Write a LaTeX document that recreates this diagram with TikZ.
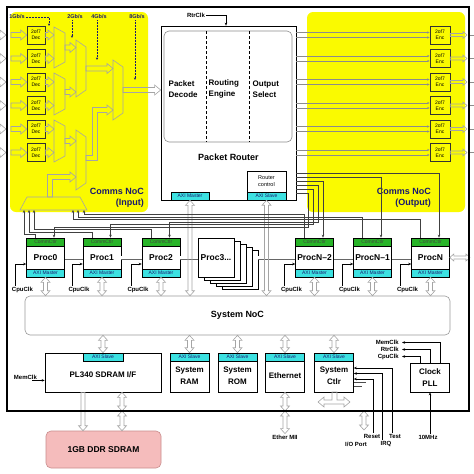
\documentclass[tikz,border=0pt]{standalone}
\usepackage{fontspec}
\setmainfont{Liberation Sans}
\usetikzlibrary{arrows.meta,calc}
\definecolor{nocyellow}{RGB}{250,250,0}
\definecolor{ccgreen}{RGB}{40,180,40}
\definecolor{axicyan}{RGB}{60,225,225}
\definecolor{ddrpink}{RGB}{245,188,188}
\definecolor{ddredge}{RGB}{200,140,140}
\definecolor{nocnavy}{RGB}{25,25,110}
\definecolor{hollowgray}{RGB}{165,165,165}
%размеры полых стрелок
\def\arrw{2pt}\def\arrh{4.5pt}\def\arrl{5pt}
%полая стрелка вправо
\newcommand{\hollowr}[2]{\draw[hollow] let \p1=#1, \p2=#2 in
  (\x1,\y1+\arrw) -- (\x2-\arrl,\y1+\arrw) -- (\x2-\arrl,\y1+\arrh) -- (\x2,\y1)
  -- (\x2-\arrl,\y1-\arrh) -- (\x2-\arrl,\y1-\arrw) -- (\x1,\y1-\arrw) -- cycle;}
%полая стрелка вниз
\newcommand{\hollowd}[2]{\draw[hollow] let \p1=#1, \p2=#2 in
  (\x1-\arrw,\y1) -- (\x1-\arrw,\y2+\arrl) -- (\x1-\arrh,\y2+\arrl) -- (\x1,\y2)
  -- (\x1+\arrh,\y2+\arrl) -- (\x1+\arrw,\y2+\arrl) -- (\x1+\arrw,\y1) -- cycle;}
%полая двойная вертикальная
\newcommand{\hollowud}[2]{\draw[hollow] let \p1=#1, \p2=#2 in
  (\x1,\y1) -- (\x1+\arrh,\y1-\arrl) -- (\x1+\arrw,\y1-\arrl) -- (\x1+\arrw,\y2+\arrl)
  -- (\x1+\arrh,\y2+\arrl) -- (\x1,\y2) -- (\x1-\arrh,\y2+\arrl) -- (\x1-\arrw,\y2+\arrl)
  -- (\x1-\arrw,\y1-\arrl) -- (\x1-\arrh,\y1-\arrl) -- cycle;}
%полая двойная горизонтальная
\newcommand{\hollowlr}[2]{\draw[hollow] let \p1=#1, \p2=#2 in
  (\x1,\y1) -- (\x1+\arrl,\y1+\arrh) -- (\x1+\arrl,\y1+\arrw) -- (\x2-\arrl,\y1+\arrw)
  -- (\x2-\arrl,\y1+\arrh) -- (\x2,\y1) -- (\x2-\arrl,\y1-\arrh) -- (\x2-\arrl,\y1-\arrw)
  -- (\x1+\arrl,\y1-\arrw) -- (\x1+\arrl,\y1-\arrh) -- cycle;}
\begin{document}
\begin{tikzpicture}[x=1pt,y=-1pt,
  hollow/.style={draw=hollowgray,line width=.6pt},
  mux/.style={draw=hollowgray,line width=.6pt},
  decbox/.style={draw=black!80,fill=nocyellow,line width=.5pt,minimum width=18pt,minimum height=18pt,inner sep=0,align=center,font=\fontsize{5}{5.8}\selectfont},
  ratelbl/.style={text=nocnavy,inner sep=1pt,font=\fontsize{5.5}{6.5}\selectfont\bfseries},
  selarrow/.style={nocnavy,densely dotted,line width=.5pt,-{Stealth[length=2.5pt,width=2pt]}},
  nocname/.style={text=nocnavy,align=right,inner sep=0,font=\fontsize{9}{10.5}\selectfont\bfseries},
  router/.style={draw=black,fill=white,line width=.7pt,minimum width=135pt,minimum height=174pt,inner sep=0},
  stagetxt/.style={align=left,inner sep=0,font=\fontsize{8}{11.5}\selectfont\bfseries},
  boxtxt/.style={align=center,inner sep=0,font=\fontsize{8}{12.5}\selectfont\bfseries},
  ctlbox/.style={draw=black,fill=white,line width=.5pt,minimum width=39pt,minimum height=29pt,inner sep=0},
  procbox/.style={draw=black,fill=white,line width=.6pt,minimum width=38pt,minimum height=39pt,inner sep=0,font=\fontsize{8.5}{10}\selectfont\bfseries},
  card/.style={procbox,minimum width=36pt},
  ccstrip/.style={draw=black,fill=ccgreen,line width=.4pt,minimum width=38pt,minimum height=8pt,inner sep=0,text=black!75,font=\fontsize{5}{5.5}\selectfont},
  axistrip/.style={draw=black,fill=axicyan,line width=.4pt,minimum width=38pt,minimum height=8pt,inner sep=0,text=nocnavy,font=\fontsize{5}{5.5}\selectfont},
  clklbl/.style={inner sep=1pt,font=\fontsize{6}{7}\selectfont\bfseries},
  clkarrow/.style={black,line width=.5pt,-{Stealth[length=3pt,width=2.5pt]}},
  ctlline/.style={black!75,line width=.5pt,-{Stealth[length=3pt,width=2.5pt]}},
  encline/.style={black!45,line width=.4pt,-{Stealth[length=2.5pt,width=2pt]}},
  link/.style={draw=black!60,line width=.5pt,double=white,double distance=3pt},
  nocbox/.style={draw=black!40,fill=white,line width=.6pt,rounded corners=5pt,minimum width=425pt,minimum height=39pt,font=\fontsize{9}{11}\selectfont\bfseries},
  slavebox/.style={draw=black,fill=white,line width=.6pt,minimum width=39pt,minimum height=39pt,inner sep=0},
  ddrbox/.style={draw=ddredge,fill=ddrpink,line width=.6pt,rounded corners=5pt,minimum width=115pt,minimum height=37pt,font=\fontsize{8.5}{10}\selectfont\bfseries},
  chip/.style={draw=black,line width=1.2pt}]
\useasboundingbox (0,0) rectangle (474,474);
%Жёлтые области Comms NoC
\fill[nocyellow,rounded corners=6pt] (10,12) rectangle (148,212);
\fill[nocyellow,rounded corners=6pt] (307,12) rectangle (465,212);
%Входная часть: декодеры и мультиплексоры
\begin{scope}
\def\arrw{2.5pt}\def\arrh{5pt}\def\arrl{6pt}
\foreach \py [count=\i] in {35,58.5,82,105.5,129,152.5}{
  \node[decbox] (dec\i) at (36,\py) {2of7\\Dec};
  \hollowr{(-5,\py)}{(6,\py)}
  \hollowr{(11,\py)}{(dec\i.west)}
  \hollowr{(dec\i.east)}{(54,\py)}
}
\draw[mux] (54,27) -- (65,33) -- (65,62) -- (54,68) -- cycle;
\draw[mux] (54,73) -- (65,79) -- (65,109) -- (54,115) -- cycle;
\draw[mux] (54,120) -- (65,126) -- (65,156) -- (54,162) -- cycle;
\draw[mux] (76,40) -- (86,47) -- (86,90) -- (76,97) -- cycle;
\draw[mux] (76,130) -- (86,137) -- (86,183) -- (76,190) -- cycle;
\draw[mux] (113,60) -- (123,67) -- (123,113) -- (113,120) -- cycle;
\draw[mux] (20,210) -- (27,197) -- (80,197) -- (87,210) -- cycle;%нижний мультиплексор
\hollowr{(65,47.5)}{(76,47.5)}
\hollowr{(65,92)}{(76,92)}
\hollowr{(65,141)}{(76,141)}
\hollowr{(86,68.5)}{(113,68.5)}
\draw[hollow] (47.5,197) -- (47.5,174.5) -- (70,174.5) -- (70,172) -- (76,177) -- (70,182) -- (70,179.5) -- (52.5,179.5) -- (52.5,197) -- cycle;
\draw[hollow] (86,155.5) -- (92.5,155.5) -- (92.5,107.5) -- (107,107.5) -- (107,105) -- (113,110) -- (107,115) -- (107,112.5) -- (97.5,112.5) -- (97.5,160.5) -- (86,160.5) -- cycle;
\end{scope}
%Скорости
\node[ratelbl] (r1) at (17,17) {1Gb/s};
\node[ratelbl] (r2) at (75,17) {2Gb/s};
\node[ratelbl] (r4) at (99,17) {4Gb/s};
\node[ratelbl] (r8) at (137,17) {8Gb/s};
\draw[selarrow] (r1.east) -| (49,26);
\draw[selarrow] (r2.south -| 72,0) -- (72,38);
\draw[selarrow] (r4.south -| 97,0) -- (97,60);
\draw[selarrow] (r8.south -| 135,0) -- (135,80);
\node[nocname,anchor=east] (nin) at (144,198) {Comms NoC\\(Input)};
%Маршрутизатор пакетов
\node[router] (pr) at (228.5,113) {};
\begin{scope}
\def\arrw{2.5pt}\def\arrh{5pt}\def\arrl{6pt}
\hollowr{(123,90)}{(pr.west |- 0,90)}
\end{scope}
\draw[black!45,line width=.6pt,rounded corners=5pt] (164,31) rectangle (292,142);
\draw[densely dashed,line width=.5pt] (206,31) -- (206,142);
\draw[densely dashed,line width=.5pt] (249,31) -- (249,142);
\node[stagetxt,anchor=west] (st1) at (168.5,89) {Packet\\Decode};
\node[stagetxt,anchor=west] (st2) at (208.5,89) {Routing\\Engine};
\node[stagetxt,anchor=west] (st3) at (252.5,89) {Output\\Select};
\node[boxtxt,font=\fontsize{9}{11}\selectfont\bfseries] (prt) at (228.5,157) {Packet Router};
\node[axistrip,anchor=south] (pr-axi) at (pr.south -| 190,0) {AXI Master};
\node[ctlbox] (rc) at (266.5,185.5) {};
\node[axistrip,minimum width=39pt,anchor=south] (rc-axi) at (rc.south) {AXI Slave};
\node[align=center,inner sep=0,font=\fontsize{5.5}{7}\selectfont] (rct) at (266.5,181) {Router\\control};
\node[clklbl] (rtrclk) at (196,15) {RtrClk};
\draw[clkarrow] (rtrclk.east) -| ([xshift=-2.5pt]pr.north);
%Выходная часть: кодеры
\begin{scope}
\def\arrw{1.5pt}\def\arrh{3.5pt}\def\arrl{4pt}
\foreach \py [count=\i] in {35,58.5,82,105.5,129,152.5}{
  \node[decbox,minimum width=20pt] (enc\i) at (440,\py) {2of7\\Enc};
  \pgfmathsetmacro{\pya}{\py-2.5}
  \pgfmathsetmacro{\pyb}{\py+2.5}
  \draw[encline] (pr.east |- 0,\pya) -- (enc\i.west |- 0,\pya);
  \draw[encline] (pr.east |- 0,\pyb) -- (enc\i.west |- 0,\pyb);
  \hollowr{(enc\i.east)}{(467,\py)}
  \draw[black!45,line width=.4pt] (469,\py) -- (474,\py);
}
\end{scope}
\node[nocname,anchor=east] (nout) at (431,198) {Comms NoC\\(Output)};
%Процессоры
\foreach \nm/\cx/\txt in {p0/45.5/Proc0,p1/102/Proc1,p2/161/Proc2,pa/314.5/ProcN–2,pb/372.5/ProcN–1,pc/430.5/ProcN}{
  \node[procbox] (\nm) at (\cx,257.5) {\txt};
  \node[ccstrip,anchor=north] (\nm-cc) at (\nm.north) {CommCtlr};
  \node[axistrip,anchor=south] (\nm-axi) at (\nm.south) {AXI Master};
  \node[clklbl] (\nm-clk) at (\cx-23,290) {CpuClk};
  \draw[clkarrow] ([xshift=-7pt]\nm-clk.north) |- ([yshift=-6.5pt]\nm.west);
}
\foreach \k in {4,3,2,1}
  \node[card] (s\k) at (216+6*\k,257.5+3*\k) {};
\node[card] (s0) at (216,257.5) {Proc3...};
\draw[link] (p0.east) -- (p1.west);
\draw[link] (p1.east) -- (p2.west);
\draw[link] (p2.east) -- (s0.west);
\draw[link] (s4.east |- pa.west) -- (pa.west);
\draw[link] (pa.east) -- (pb.west);
\draw[link] (pb.east) -- (pc.west);
\begin{scope}
\def\arrw{1.5pt}\def\arrh{3.5pt}\def\arrl{4pt}
\hollowlr{(pc.east)}{(470,257.5)}
\end{scope}
%System NoC
\node[nocbox] (noc) at (237.5,315.5) {System NoC};
\foreach \nm in {p0,p1,p2,pa,pb,pc}
  \hollowud{(\nm.south)}{(\nm.south |- noc.north)};
\hollowud{(pr-axi.south)}{(pr-axi.south |- noc.north)}
\hollowud{(rc-axi.south)}{(rc-axi.south |- noc.north)}
%Линии управления от Router control
\draw[ctlline] (pr.east |- 0,173) -| ([xshift=8.5pt]pc.north);
\draw[ctlline] (pr.east |- 0,177) -| ([xshift=8.5pt]pb.north);
\draw[ctlline] (pr.east |- 0,181) -| ([xshift=8.5pt]pa.north);
\draw[ctlline] (pr.east |- 0,185) -| (318,222) -| ([xshift=8.5pt]p2.north);
\draw[ctlline] (pr.east |- 0,189) -| (313,224.5) -| ([xshift=8.5pt]p1.north);
\draw[ctlline] (pr.east |- 0,193) -| (308,227) -| ([xshift=8.5pt]p0.north);
%Линии от CommCtlr к входному мультиплексору
\foreach \i/\xx in {1/24,2/29,3/34,4/73,5/78,6/84}
  \coordinate (in\i) at (\xx,210);
\draw[ctlline] ([xshift=-10pt]pa.north) |- (in6 |- 0,214.5) -- (in6);
\draw[ctlline] ([xshift=-10pt]pb.north) |- (in5 |- 0,217) -- (in5);
\draw[ctlline] ([xshift=-10pt]pc.north) |- (in4 |- 0,219.5) -- (in4);
\draw[ctlline] ([xshift=-10pt]p2.north) |- (in3 |- 0,229.5) -- (in3);
\draw[ctlline] ([xshift=-10pt]p1.north) |- (in2 |- 0,232) -- (in2);
\draw[ctlline] ([xshift=-10pt]p0.north) |- (in1 |- 0,234.5) -- (in1);
%Нижний ряд
\node[slavebox,minimum width=116pt] (pl) at (103,372.5) {};
\node[axistrip,minimum width=40pt,anchor=north] (pl-axi) at (pl.north) {AXI Slave};
\node[boxtxt] (pl-t) at (103,375) {PL340 SDRAM I/F};
\foreach \nm/\cx/\txt in {sram/189.5/{System\\RAM},srom/237.5/{System\\ROM},eth/285/Ethernet,sctl/334/{System\\Ctlr}}{
  \node[slavebox] (\nm) at (\cx,372.5) {};
  \node[axistrip,minimum width=39pt,anchor=north] (\nm-axi) at (\nm.north) {AXI Slave};
  \node[boxtxt] (\nm-t) at (\cx,375.5) {\txt};
  \hollowud{(\nm.north |- noc.south)}{(\nm.north)}
}
\hollowud{(pl.north |- noc.south)}{(pl.north)}
\node[ddrbox] (ddr) at (103.5,449.5) {1GB DDR SDRAM};
\hollowd{([xshift=-20pt]pl.south)}{([xshift=-20pt]pl.south |- ddr.north)}
\hollowud{([xshift=19pt]pl.south)}{([xshift=19pt]pl.south |- 0,411)}
\hollowud{([xshift=19pt]pl.south |- 0,411)}{([xshift=19pt]pl.south |- ddr.north)}
\node[clklbl] (memclk) at (25.5,377) {MemClk};
\draw[clkarrow] ([xshift=-6pt]memclk.south east) -- (memclk.south east -| pl.west);
%Ethernet
\node[clklbl] (ethmii) at (285,437) {Ether MII};
\hollowud{(eth.south)}{(eth.south |- 0,411)}
\hollowud{(eth.south |- 0,411)}{(ethmii.north)}
%System Ctlr
\draw[hollow] (318,402) -- (324,397) -- (324,400) -- (332,400) -- (332,392) -- (337,392) -- (337,400) -- (344,400) -- (344,397) -- (350,402) -- (344,407) -- (344,404) -- (324,404) -- (324,407) -- cycle;
\draw[black!70,line width=.5pt,double=white,double distance=3.5pt] (sctl.east |- 0,384.5) -| (364,411);
\hollowud{(364,411)}{(364,430)}
\node[clklbl] (reset) at (372,436) {Reset};
\node[clklbl] (test) at (395,436) {Test};
\node[clklbl] (iop) at (356,444) {I/O Port};
\node[clklbl] (irq) at (386,444) {IRQ};
\draw[clkarrow] (test.north -| 392,0) |- (sctl.east |- 0,368);
\draw[clkarrow] (irq.north -| 382,0) |- (sctl.east |- 0,373.5);
\draw[clkarrow] (reset.north -| 373,0) |- (sctl.east |- 0,379);
%Clock PLL
\node[slavebox,minimum height=29pt,align=center,font=\fontsize{8}{11.5}\selectfont\bfseries] (pll) at (430,377.5) {Clock\\PLL};
\node[clklbl,anchor=east] (memclk2) at (400,342.5) {MemClk};
\node[clklbl,anchor=east] (rtrclk2) at (400,349.5) {RtrClk};
\node[clklbl,anchor=east] (cpuclk2) at (400,356.5) {CpuClk};
\draw[clkarrow] ([xshift=10pt]pll.north) |- ([xshift=2pt]memclk2.east);
\draw[clkarrow] (pll.north) |- ([xshift=2pt]rtrclk2.east);
\draw[clkarrow] ([xshift=-10pt]pll.north) |- ([xshift=2pt]cpuclk2.east);
\node[clklbl] (mhz) at (428,437) {10MHz};
\draw[clkarrow] (mhz.north -| pll.south) -- (pll.south);
%Граница кристалла
\draw[chip] (7,7) rectangle (469,411);
\end{tikzpicture}
\end{document}
